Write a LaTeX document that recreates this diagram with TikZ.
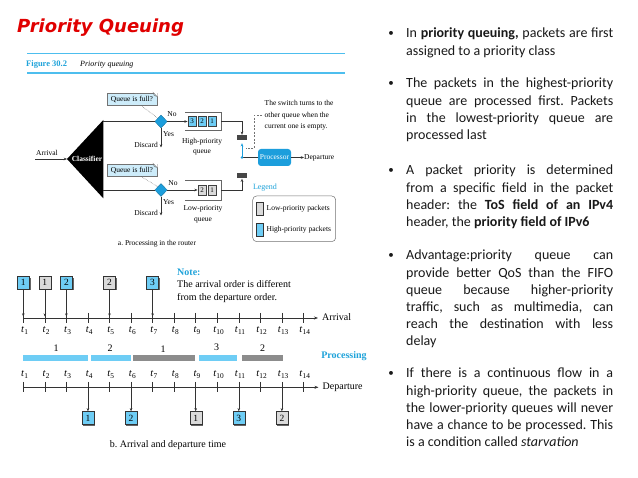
\documentclass[tikz,border=0pt]{standalone}
\usepackage{fontspec}
\setmainfont{Liberation Serif}
\newfontfamily\calib{Carlito}
\newfontfamily\titlefont{DejaVu Sans Bold Oblique}
\usetikzlibrary{arrows.meta,shapes.geometric,shadows,calc}
\frenchspacing
\definecolor{titlered}{RGB}{224,0,0}
\definecolor{figcyan}{RGB}{31,163,218}
\definecolor{lcyan}{RGB}{77,190,238}
\definecolor{pktblue}{RGB}{110,205,245}
\definecolor{diablue}{RGB}{28,158,220}
\definecolor{qfill}{RGB}{205,236,250}
\definecolor{pktgray}{RGB}{218,218,218}
\definecolor{bargray}{RGB}{140,140,140}
\definecolor{swgray}{RGB}{70,70,70}
\definecolor{txt}{RGB}{25,25,25}
\newcommand\tx[1]{\fpeval{23.3+(#1-1)*21.55}}
\newcommand\jline[1]{\makebox[207pt][s]{#1}\\}
\tikzset{
  fa/.style={font=\fontsize{7.5}{9}\selectfont, inner sep=0pt},
  fb/.style={font=\fontsize{10}{12}\selectfont, inner sep=0pt},
  ln/.style={draw=black!80, line width=0.6pt},
  arr/.style={ln, -{Stealth[length=3.2pt,width=2.6pt]}},
  tickln/.style={draw=black!80, line width=0.5pt},
  pkta/.style={draw=black!75, line width=0.4pt, minimum width=8.5pt, minimum height=10pt, inner sep=0pt, font=\fontsize{7}{8}\selectfont},
  pktb/.style={draw=black!80, line width=0.4pt, minimum width=12pt, minimum height=12.5pt, inner sep=0pt, font=\fontsize{9.5}{10}\selectfont, drop shadow={shadow xshift=1.3pt, shadow yshift=-1.3pt, fill=black!60, opacity=1}},
  qfull/.style={draw=black!55, line width=0.4pt, fill=qfill, minimum width=50pt, minimum height=12.5pt, inner sep=0pt, font=\fontsize{7.5}{9}\selectfont},
  dia/.style={diamond, fill=diablue, draw=diablue!70!black, line width=0.3pt, minimum width=12.5pt, minimum height=13pt, inner sep=0pt},
  swbox/.style={fill=swgray, minimum width=10pt, minimum height=5pt, inner sep=0pt},
  qbox/.style={draw=black!60, line width=0.6pt},
  bul/.style={anchor=base west, inner sep=0pt, text=txt, font=\calib\fontsize{14}{17.2}\selectfont},
}
\begin{document}
\begin{tikzpicture}[x=1pt,y=-1pt]
\useasboundingbox (0,0) rectangle (638,478);
\fill[white] (0,0) rectangle (638,478);

% ---------- title and caption
\node[anchor=base west, inner sep=0pt, text=titlered, font=\titlefont\fontsize{18}{20}\selectfont] (title) at (17,33) {Priority Queuing};
\draw[lcyan, line width=0.7pt] (27,53) -- (345,53);
\node[anchor=base west, inner sep=0pt, text=figcyan, font=\bfseries\fontsize{8.5}{10}\selectfont] (fig) at (26,66.5) {Figure 30.2};
\node[anchor=base west, inner sep=0pt, font=\itshape\fontsize{8}{10}\selectfont] (figt) at (80,66.5) {Priority queuing};
\draw[lcyan, line width=2.2pt] (27,73) -- (345,73);

% ---------- part a
\node[fa] (arrtxt) at (47,153) {Arrival};
\coordinate (arrin) at (35,159);
\coordinate (tip) at (67,159);
\fill[black] (tip) -- (103.3,120) -- (103.3,198.3) -- cycle;
\node[fa, text=white, font=\bfseries\fontsize{7.5}{9}\selectfont] (cls) at (87,159) {Classifier};
\draw[arr] (arrin) -- (tip);

% high branch
\coordinate (ct) at (103.3,121.5);
\node[dia] (d1) at (161,121.5) {};
\draw[ln] (ct) -- (d1.west);
\node[qfull] (qf1) at (132,99) {Queue is full?};
\fill[white] ($(qf1.north east)+(-4,-0.3)$) -- ($(qf1.north east)+(0.3,-0.3)$) -- ($(qf1.north east)+(0.3,4)$) -- cycle;
\draw[black!55, line width=0.4pt] ($(qf1.north east)+(-4,0)$) -- ($(qf1.north east)+(0,4)$) -- ($(qf1.north east)+(-3,3)$) -- cycle;
\draw[black!60, densely dotted, line width=0.5pt] ($(qf1.south)+(9,0)$) -- (d1.north west);
\node[fa] (no1) at (172,114) {No};
\node[fa] (yes1) at (168.5,134.5) {Yes};
\coordinate (disc1) at (161,147.5);
\draw[arr] (d1.south) -- (disc1);
\node[fa, anchor=east] (dtx1) at (158,144.5) {Discard};
\draw[qbox] (185,112) -- (221,112) -- (221,130.5) -- (185,130.5);
\node[pkta, fill=pktblue] (h3) at (192,121.5) {3};
\node[pkta, fill=pktblue] (h2) at (202,121.5) {2};
\node[pkta, fill=pktblue] (h1) at (212,121.5) {1};
\draw[arr] (d1.east) -- (h3.west);
\node[fa, align=center, font=\fontsize{7.5}{10.5}\selectfont] (hpq) at (202,146.5) {High-priority\\queue};
\node[swbox] (sw1) at (242,137.5) {};
\coordinate (qr1) at (221,121.5);
\draw[arr] (qr1) -| (sw1.north);

% processor
\node[fill=diablue, rounded corners=3pt, minimum width=33pt, minimum height=17pt, inner sep=0pt, text=white, font=\fontsize{7.5}{9}\selectfont] (proc) at (274.5,157.5) {Processor};
\coordinate (jn) at (242,157.5);
\draw[diablue, line width=0.7pt, -{Stealth[length=3.2pt,width=2.6pt]}] (jn) -- ($(sw1.south)+(0,3)$);
\draw[ln] (jn) -- (proc.west);
\fill[diablue] (jn) circle (1.4);
\node[fa, anchor=west] (dep) at (304,157.5) {Departure};
\draw[arr] (proc.east) -- (dep.west);
\node[fa, anchor=west, align=left, font=\fontsize{7.5}{11.3}\selectfont] (note1) at (264.5,115.5) {The switch turns to the\\other queue when the\\current one is empty.};
\coordinate (dsA) at (262,115.5);
\draw[black!55, dashed, line width=0.5pt, dash pattern=on 2pt off 1.5pt] (dsA) -- (254,115.5) -- (254,148.5) -- (245.5,148.5);

% low branch
\coordinate (cb) at (103.3,190);
\node[dia] (d2) at (161,190) {};
\draw[ln] (cb) -- (d2.west);
\node[qfull] (qf2) at (132,170) {Queue is full?};
\fill[white] ($(qf2.north east)+(-4,-0.3)$) -- ($(qf2.north east)+(0.3,-0.3)$) -- ($(qf2.north east)+(0.3,4)$) -- cycle;
\draw[black!55, line width=0.4pt] ($(qf2.north east)+(-4,0)$) -- ($(qf2.north east)+(0,4)$) -- ($(qf2.north east)+(-3,3)$) -- cycle;
\draw[black!60, densely dotted, line width=0.5pt] ($(qf2.south)+(9,0)$) -- (d2.north west);
\node[fa] (no2) at (173,183) {No};
\node[fa] (yes2) at (168.5,202.5) {Yes};
\coordinate (disc2) at (161,215.5);
\draw[arr] (d2.south) -- (disc2);
\node[fa, anchor=east] (dtx2) at (158,212.5) {Discard};
\draw[qbox] (185,180) -- (221,180) -- (221,200) -- (185,200);
\node[pkta, fill=pktgray] (l2) at (202,190) {2};
\node[pkta, fill=pktgray] (l1) at (212,190) {1};
\draw[arr] (d2.east) -- (l2.west);
\node[fa, align=center, font=\fontsize{7.5}{10.5}\selectfont] (lpq) at (203,214.5) {Low-priority\\queue};
\node[swbox] (sw2) at (242,176) {};
\coordinate (qr2) at (221,190);
\draw[arr] (qr2) -| (sw2.south);

% legend
\node[fa, text=figcyan, font=\fontsize{8}{9}\selectfont] (lgt) at (265,188) {Legend};
\node[draw=black!55, line width=0.5pt, rounded corners=4pt, minimum width=83pt, minimum height=45.7pt, inner sep=0pt] (lg) at (294.2,218.8) {};
\node[draw=black!80, line width=0.4pt, fill=pktgray, minimum width=6.5pt, minimum height=12.5pt, inner sep=0pt, drop shadow={shadow xshift=1pt, shadow yshift=-1pt, fill=black!60, opacity=1}] (lgi1) at (259.5,208.5) {};
\node[fa, anchor=west] (lgl1) at (266.5,208.5) {Low-priority packets};
\node[draw=black!80, line width=0.4pt, fill=pktblue, minimum width=6.5pt, minimum height=13.5pt, inner sep=0pt, drop shadow={shadow xshift=1pt, shadow yshift=-1pt, fill=black!60, opacity=1}] (lgi2) at (259.5,229.5) {};
\node[fa, anchor=west] (lgl2) at (266.5,229.5) {High-priority packets};
\node[fa] (capa) at (157,244) {a. Processing in the router};

% ---------- part b
\coordinate (ax0) at (\tx{1},318);
\node[fb, anchor=west] (arrb) at (322,317.5) {Arrival};
\draw[ln, -{Stealth[length=4pt,width=3pt]}] (ax0) -- ($(arrb.west)+(-4,0.5)$);
\coordinate (dx0) at (\tx{1},387.3);
\node[fb, anchor=west] (depb) at (322.5,387.5) {Departure};
\draw[ln, -{Stealth[length=4pt,width=3pt]}] (dx0) -- ($(depb.west)+(-4,-0.2)$);
\foreach \k in {1,...,14}{
  \draw[tickln] (\tx{\k},313) -- (\tx{\k},323);
  \node[fb, font=\fontsize{10.5}{12}\selectfont] (ta\k) at (\tx{\k}+1.5,330.5) {\textit{t}\textsubscript{\k}};
  \draw[tickln] (\tx{\k},382) -- (\tx{\k},392.5);
  \node[fb, font=\fontsize{10.5}{12}\selectfont] (tb\k) at (\tx{\k}+1.5,374.5) {\textit{t}\textsubscript{\k}};
}
% arriving packets
\foreach \k/\c/\n in {1/pktblue/1, 2/pktgray/1, 3/pktblue/2, 5/pktgray/2, 7/pktblue/3}{
  \node[pktb, fill=\c] (pa\k) at (\tx{\k},282.5) {\n};
  \draw[arr, line width=0.5pt] (pa\k.south) -- (\tx{\k},316.5);
}
% departing packets
\foreach \k/\c/\n in {4/pktblue/1, 6/pktblue/2, 9/pktgray/1, 11/pktblue/3, 13/pktgray/2}{
  \node[pktb, fill=\c, minimum height=13pt] (pd\k) at (\tx{\k},418) {\n};
  \draw[arr, line width=0.5pt] (\tx{\k},389) -- (pd\k.north);
}
% note
\node[fb, anchor=west, text=figcyan, font=\bfseries\fontsize{10}{12}\selectfont] (noteh) at (177,272) {Note:};
\node[fb, anchor=west] (notel1) at (177,284) {The arrival order is different};
\node[fb, anchor=west] (notel2) at (177,298) {from the departure order.};
% processing bars
\fill[pktblue] (\tx{1},355) rectangle (\tx{4}+0.3,361);
\fill[pktblue] (\tx{4}+2.8,355) rectangle (\tx{6}-0.2,361);
\fill[bargray] (\tx{6}+2.2,355) rectangle (\tx{9}-0.5,361);
\fill[pktblue] (\tx{9}+2.8,355) rectangle (\tx{11}-1.5,361);
\fill[bargray] (\tx{11}+3.2,355) rectangle (\tx{13}+0.8,361);
\node[fb] (pl1) at (56,348) {1};
\node[fb] (pl2) at (110,348) {2};
\node[fb] (pl3) at (163,349) {1};
\node[fb] (pl4) at (216.7,347) {3};
\node[fb] (pl5) at (262.7,348.5) {2};
\node[fb, text=figcyan, font=\bfseries\fontsize{10}{12}\selectfont] (proct) at (344,356) {Processing};
\node[fb] (capb) at (168,445) {b. Arrival and departure time};

% ---------- bullets
\foreach \yy [count=\i] in {37,87,174,259,377}{
  \node[anchor=base, inner sep=0pt, text=txt, font=\calib\fontsize{11}{12}\selectfont] (dot\i) at (391,\yy) {•};
}
\node[bul] (b1) at (406,38) {\parbox[t]{207pt}{\jline{In \textbf{priority queuing,} packets are first}assigned to a priority class}};
\node[bul] (b2) at (406,88) {\parbox[t]{207pt}{\jline{The packets in the highest-priority}\jline{queue are processed first. Packets}\jline{in the lowest-priority queue are}processed last}};
\node[bul] (b3) at (406,175) {\parbox[t]{207pt}{\jline{A packet priority is determined}\jline{from a specific field in the packet}\jline{header: the \textbf{ToS field of an IPv4}}header, the \textbf{priority field of IPv6}}};
\node[bul] (b4) at (406,260) {\parbox[t]{207pt}{\jline{Advantage:priority queue can}\jline{provide better QoS than the FIFO}\jline{queue because higher-priority}\jline{traffic, such as multimedia, can}\jline{reach the destination with less}delay}};
\node[bul] (b5) at (406,378) {\parbox[t]{207pt}{\jline{If there is a continuous flow in a}\jline{high-priority queue, the packets in}\jline{the lower-priority queues will never}\jline{have a chance to be processed. This}is a condition called \textit{starvation}}};
\end{tikzpicture}
\end{document}
